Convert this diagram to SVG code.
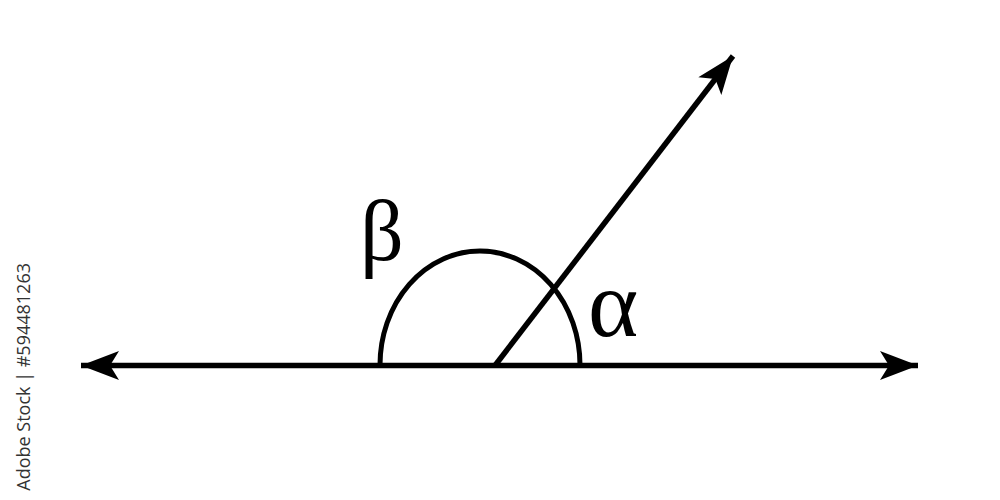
<svg xmlns="http://www.w3.org/2000/svg" width="1000" height="500" viewBox="0 0 1000 500">
<style>
.ln{stroke:#000;stroke-width:5.5;fill:none}
.arc{stroke:#000;stroke-width:5;fill:none}
.lbl{font-family:"Liberation Serif","DejaVu Serif",serif;fill:#000}
.wm{font-family:"Open Sans","Liberation Sans",sans-serif;fill:#333;font-size:18px}
</style>
<defs>
<marker id="ah" markerUnits="userSpaceOnUse" markerWidth="44" markerHeight="36" viewBox="-42 -18 44 36" refX="0" refY="0" orient="auto-start-reverse">
<path d="M0,0 L-38,-14.5 L-29,0 L-38,14.5 Z" fill="#000"/>
</marker>
</defs>
<rect width="1000" height="500" fill="#fff"/>
<g id="connectors">
<line id="baseline" class="ln" x1="81" y1="365.5" x2="918" y2="365.5" marker-start="url(#ah)" marker-end="url(#ah)"/>
<line id="ray" class="ln" x1="495" y1="365.5" x2="733" y2="56" marker-end="url(#ah)"/>
</g>
<g id="arc">
<path class="arc" d="M380,365 A100,114 0 0 1 580,365"/>
</g>
<g id="beta">
<text class="lbl" x="360" y="260" font-size="86">β</text>
</g>
<g id="alpha">
<text class="lbl" x="588" y="336" font-size="96">α</text>
</g>
<g id="watermark">
<text class="wm" transform="translate(30,263) rotate(-90)" text-anchor="end">Adobe Stock | #594481263</text>
</g>
</svg>
